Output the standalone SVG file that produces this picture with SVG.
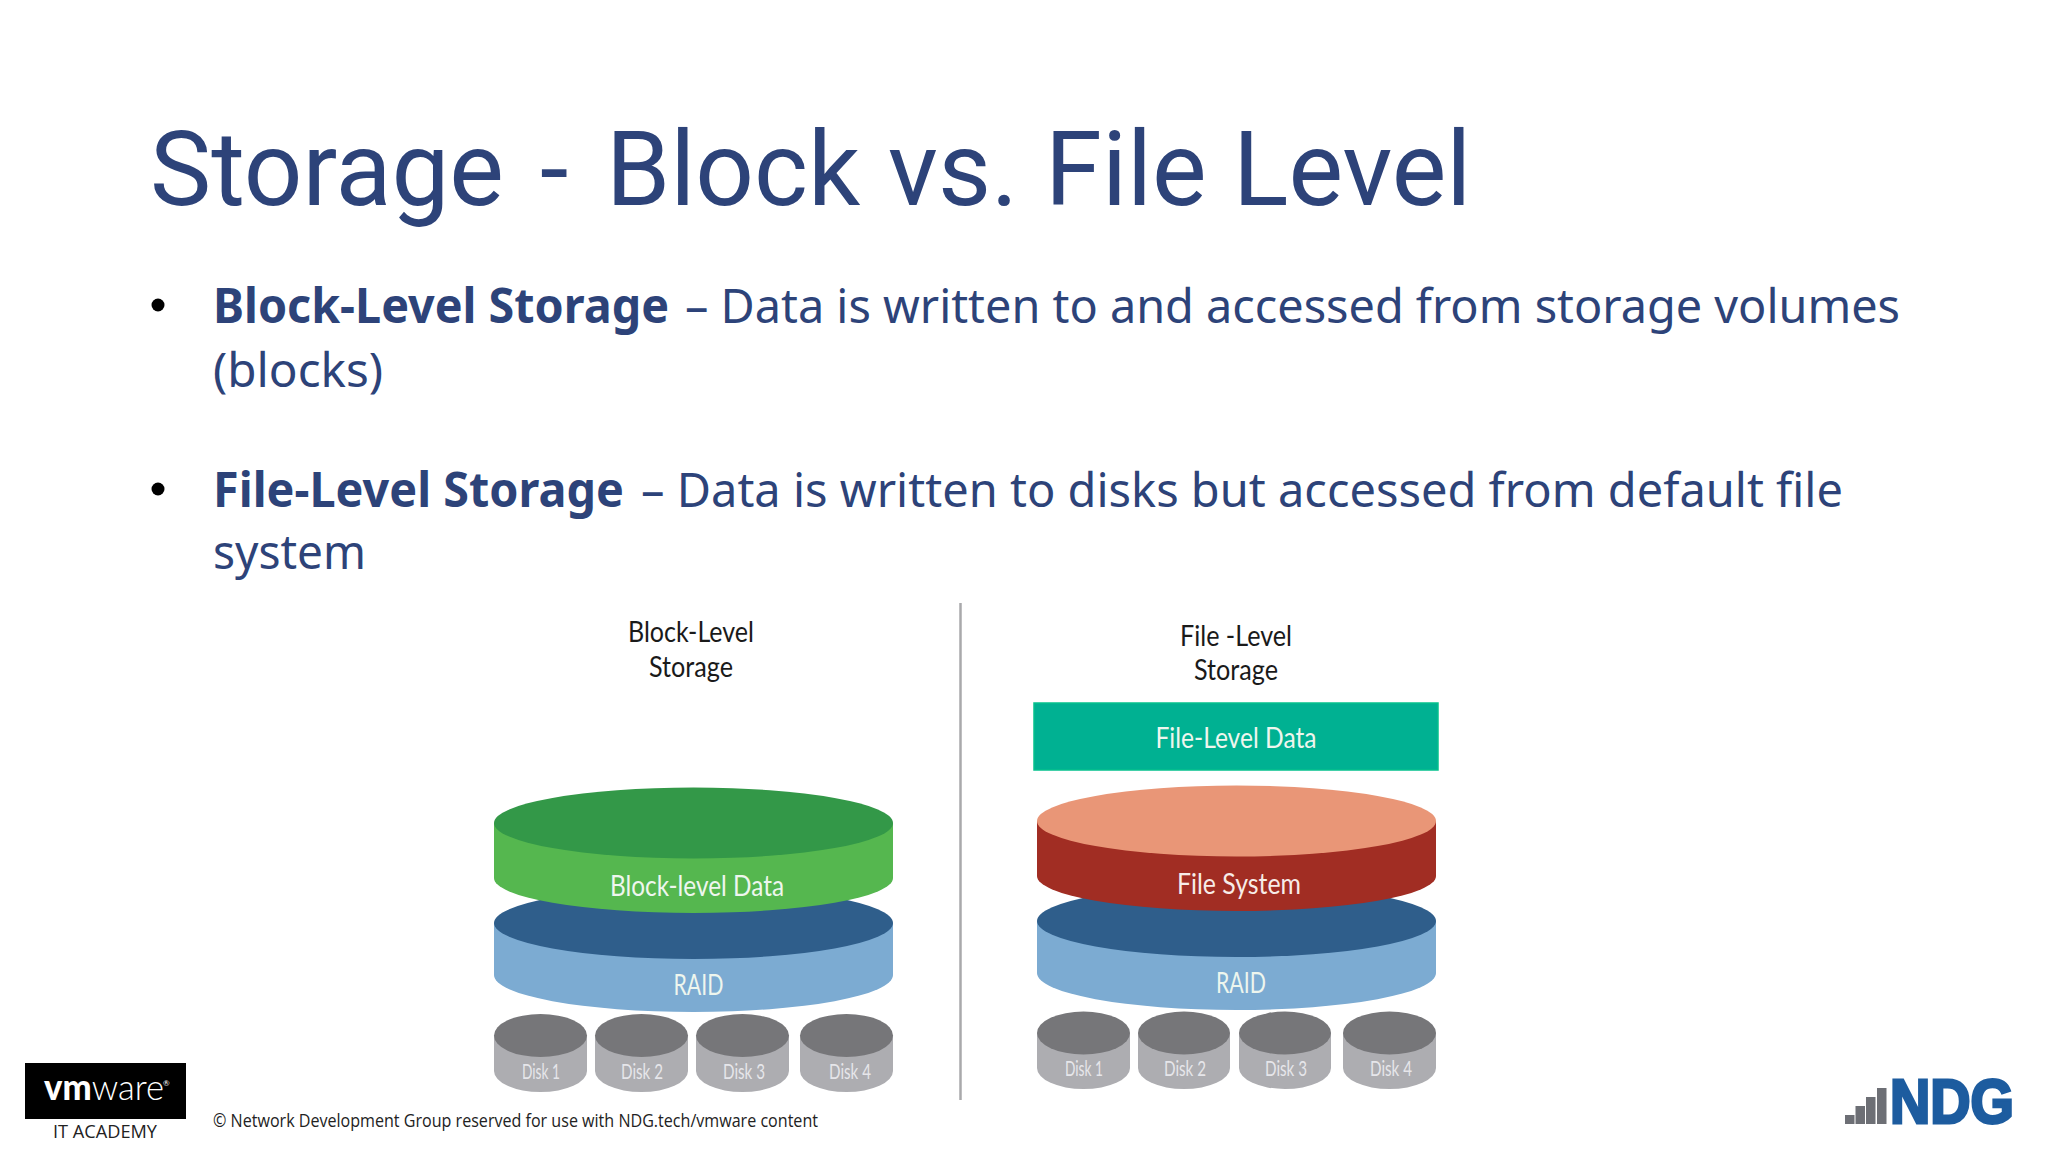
<svg xmlns="http://www.w3.org/2000/svg" width="2048" height="1152" viewBox="0 0 2048 1152">
<style>
.title{font:400 103px Roboto,sans-serif;fill:#2d4379}
.body{font:400 48px "Noto Sans",sans-serif;fill:#2d4379}
.b{font-weight:700}
.bullet{fill:#000}
.head{font:400 29px Lato,sans-serif;fill:#1a1a1a;text-anchor:middle}
.lab{font:400 29px Lato,sans-serif;fill:#eef6ee;text-anchor:middle}
.disk{font:400 21px Lato,sans-serif;fill:#e6e6ea;text-anchor:middle}
.dt{fill:#767679}.ds{fill:#adadb1}
.foot{font:400 18px "Open Sans",sans-serif;fill:#222}
</style>
<rect width="2048" height="1152" fill="#ffffff"/>
<text class="title" y="205"><tspan x="150">Storage</tspan><tspan x="540">-</tspan><tspan x="606">Block</tspan><tspan x="888">vs.</tspan><tspan x="1045">File</tspan><tspan x="1233">Level</tspan></text>
<g id="bullets">
<circle class="bullet" cx="158" cy="305" r="6.500"/>
<text class="body b" x="213" y="323" textLength="456" lengthAdjust="spacingAndGlyphs">Block-Level Storage</text>
<text class="body" x="685" y="323" textLength="1215" lengthAdjust="spacingAndGlyphs">– Data is written to and accessed from storage volumes</text>
<text class="body" x="213" y="387" textLength="170" lengthAdjust="spacingAndGlyphs">(blocks)</text>
<circle class="bullet" cx="158" cy="489" r="6.500"/>
<text class="body b" x="213" y="507" textLength="411" lengthAdjust="spacingAndGlyphs">File-Level Storage</text>
<text class="body" x="641" y="507" textLength="1202" lengthAdjust="spacingAndGlyphs">– Data is written to disks but accessed from default file</text>
<text class="body" x="213" y="569" textLength="153" lengthAdjust="spacingAndGlyphs">system</text>
</g>
<line x1="960.5" y1="603" x2="960.5" y2="1100" stroke="#a9a9ab" stroke-width="2.5"/>
<g id="block-title">
<text class="head" x="691" y="642" textLength="126" lengthAdjust="spacingAndGlyphs">Block-Level</text>
<text class="head" x="691" y="677" textLength="84" lengthAdjust="spacingAndGlyphs">Storage</text>
</g>
<g id="block-raid">
<path d="M494 923V975A199.5 37 0 0 0 893 975V923Z" fill="#7cabd2"/>
<ellipse cx="693.5" cy="923" rx="199.5" ry="36" fill="#2f5e8b"/>
<text class="lab" x="698.5" y="995" textLength="50" lengthAdjust="spacingAndGlyphs">RAID</text>
</g>
<g id="block-data">
<path d="M494 823V878A199.5 35 0 0 0 893 878V823Z" fill="#55b74f"/>
<ellipse cx="693.5" cy="823" rx="199.5" ry="35.500" fill="#339848"/>
<text class="lab" x="697" y="896" textLength="174" lengthAdjust="spacingAndGlyphs">Block-level Data</text>
</g>
<g id="block-disk-1"><path d="M494 1035.500V1071A46.500 21 0 0 0 587 1071V1035.500Z" class="ds"/><ellipse class="dt" cx="540.500" cy="1035.500" rx="46.500" ry="21.500"/><text class="disk" x="541" y="1079" textLength="38" lengthAdjust="spacingAndGlyphs">Disk 1</text></g>
<g id="block-disk-2"><path d="M595 1035.500V1071A46.500 21 0 0 0 688 1071V1035.500Z" class="ds"/><ellipse class="dt" cx="641.500" cy="1035.500" rx="46.500" ry="21.500"/><text class="disk" x="642" y="1079" textLength="42" lengthAdjust="spacingAndGlyphs">Disk 2</text></g>
<g id="block-disk-3"><path d="M696 1035.500V1071A46.500 21 0 0 0 789 1071V1035.500Z" class="ds"/><ellipse class="dt" cx="742.500" cy="1035.500" rx="46.500" ry="21.500"/><text class="disk" x="744" y="1079" textLength="42" lengthAdjust="spacingAndGlyphs">Disk 3</text></g>
<g id="block-disk-4"><path d="M800 1035.500V1071A46.500 21 0 0 0 893 1071V1035.500Z" class="ds"/><ellipse class="dt" cx="846.500" cy="1035.500" rx="46.500" ry="21.500"/><text class="disk" x="850" y="1079" textLength="42" lengthAdjust="spacingAndGlyphs">Disk 4</text></g>
<g id="file-title">
<text class="head" x="1236" y="646" textLength="112" lengthAdjust="spacingAndGlyphs">File -Level</text>
<text class="head" x="1236" y="680" textLength="84" lengthAdjust="spacingAndGlyphs">Storage</text>
</g>
<g id="file-data">
<rect x="1034" y="703" width="404" height="67" fill="#00b192" stroke="#05c18d" stroke-width="1.500"/>
<text class="lab" x="1236" y="748" textLength="161" lengthAdjust="spacingAndGlyphs">File-Level Data</text>
</g>
<g id="file-raid">
<path d="M1037 921V973A199.500 37 0 0 0 1436 973V921Z" fill="#7cabd2"/>
<ellipse cx="1236.500" cy="921" rx="199.500" ry="36" fill="#2f5e8b"/>
<text class="lab" x="1241" y="993" textLength="50" lengthAdjust="spacingAndGlyphs">RAID</text>
</g>
<g id="file-system">
<path d="M1037 821V876A199.500 35 0 0 0 1436 876V821Z" fill="#a12d23"/>
<ellipse cx="1236.500" cy="821" rx="199.500" ry="35.500" fill="#e99677"/>
<text class="lab" x="1239" y="894" textLength="124" lengthAdjust="spacingAndGlyphs" style="fill:#f7ece8">File System</text>
</g>
<g id="file-disk-1"><path d="M1037 1033V1068A46.500 21 0 0 0 1130 1068V1033Z" class="ds"/><ellipse class="dt" cx="1083.500" cy="1033" rx="46.500" ry="21.500"/><text class="disk" x="1084" y="1076" textLength="38" lengthAdjust="spacingAndGlyphs">Disk 1</text></g>
<g id="file-disk-2"><path d="M1138 1033V1068A46 21 0 0 0 1230 1068V1033Z" class="ds"/><ellipse class="dt" cx="1184" cy="1033" rx="46" ry="21.500"/><text class="disk" x="1185" y="1076" textLength="42" lengthAdjust="spacingAndGlyphs">Disk 2</text></g>
<g id="file-disk-3"><path d="M1239 1033V1068A46 21 0 0 0 1331 1068V1033Z" class="ds"/><ellipse class="dt" cx="1285" cy="1033" rx="46" ry="21.500"/><text class="disk" x="1286" y="1076" textLength="42" lengthAdjust="spacingAndGlyphs">Disk 3</text></g>
<g id="file-disk-4"><path d="M1343 1033V1068A46.500 21 0 0 0 1436 1068V1033Z" class="ds"/><ellipse class="dt" cx="1389.500" cy="1033" rx="46.500" ry="21.500"/><text class="disk" x="1391" y="1076" textLength="42" lengthAdjust="spacingAndGlyphs">Disk 4</text></g>
<g id="vmware-logo">
<rect x="25" y="1063" width="161" height="56" fill="#000"/>
<text x="44" y="1100" textLength="120" lengthAdjust="spacingAndGlyphs" style="font:300 36px Lato,sans-serif;fill:#fff"><tspan style="font-weight:900">vm</tspan>ware</text>
<text x="163" y="1086" style="font:400 8px Lato,sans-serif;fill:#fff">®</text>
<text x="105" y="1138" text-anchor="middle" textLength="104" lengthAdjust="spacingAndGlyphs" style="font:400 19px 'Open Sans',sans-serif;fill:#222">IT ACADEMY</text>
</g>
<text class="foot" x="213" y="1127" textLength="605" lengthAdjust="spacingAndGlyphs">© Network Development Group reserved for use with NDG.tech/vmware content</text>
<g id="ndg-logo">
<rect x="1845" y="1115" width="9.500" height="9" fill="#6d6f75"/>
<rect x="1855.500" y="1106" width="9.500" height="18" fill="#6d6f75"/>
<rect x="1866" y="1097" width="9.500" height="27" fill="#6d6f75"/>
<rect x="1877" y="1088" width="9.500" height="36" fill="#6d6f75"/>
<text x="1890" y="1123" textLength="124" lengthAdjust="spacingAndGlyphs" style="font:700 63px 'Liberation Sans',sans-serif;fill:#1d5c9f;stroke:#1d5c9f;stroke-width:3">NDG</text>
</g>
</svg>
